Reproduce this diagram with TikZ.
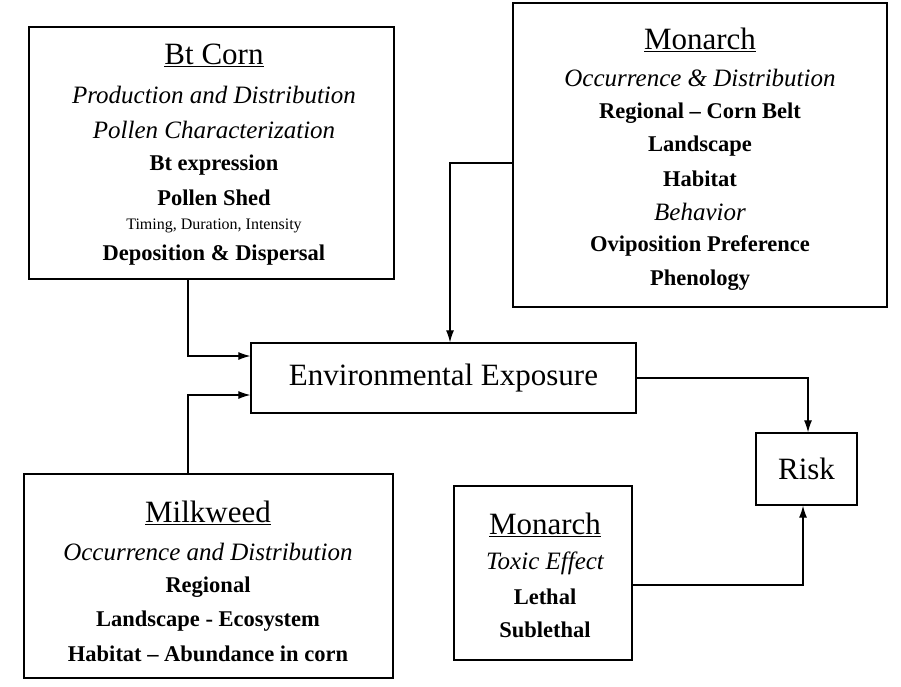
\documentclass[tikz,border=0pt]{standalone}
\usepackage{fontspec}
\setmainfont{Liberation Serif}
\usetikzlibrary{arrows.meta}
\begin{document}
\begin{tikzpicture}[x=1pt,y=-1pt,
 box/.style={draw,line width=1.3pt,inner sep=0pt},
 ttl/.style={font=\fontsize{31}{32}\selectfont},
 it/.style={font=\fontsize{25}{26}\selectfont\itshape},
 bd/.style={font=\fontsize{22.5}{23}\selectfont\bfseries},
 sm/.style={font=\fontsize{16}{17}\selectfont},
 arr/.style={line width=1.2pt,-{Latex[length=12pt,width=8pt]}}]
\useasboundingbox (0,0) rectangle (901,686);
\node[box,minimum width=365,minimum height=252] (bt) at (211.5,153) {};
\node[box,minimum width=374,minimum height=304] (mt) at (700,155) {};
\node[box,minimum width=385,minimum height=70] (ee) at (443.5,378) {};
\node[box,minimum width=101,minimum height=72] (risk) at (806.5,469) {};
\node[box,minimum width=369,minimum height=204] (mw) at (208.5,576) {};
\node[box,minimum width=178,minimum height=174] (mb) at (543,573) {};
% Bt corn text
\node[ttl] at (214,55) {\underline{Bt Corn}};
\node[it] at (214,95) {Production and Distribution};
\node[it] at (214,130) {Pollen Characterization};
\node[bd] at (214,165) {Bt expression};
\node[bd] at (214,198) {Pollen Shed};
\node[sm] at (214,226) {Timing, Duration, Intensity};
\node[bd] at (214,255) {Deposition \& Dispersal};
% monarch top
\node[ttl] at (700,40) {\underline{Monarch}};
\node[it] at (700,78) {Occurrence \& Distribution};
\node[bd] at (700,113) {Regional -- Corn Belt};
\node[bd] at (700,146) {Landscape};
\node[bd] at (700,179) {Habitat};
\node[it] at (700,212) {Behavior};
\node[bd] at (700,246) {Oviposition Preference};
\node[bd] at (700,280) {Phenology};
% EE, risk
\node[ttl] at (ee) {Environmental Exposure};
\node[ttl] at (risk) {Risk};
% milkweed
\node[ttl] at (208,513) {\underline{Milkweed}};
\node[it] at (208,552) {Occurrence and Distribution};
\node[bd] at (208,587) {Regional};
\node[bd] at (208,621) {Landscape - Ecosystem};
\node[bd] at (208,654) {Habitat -- Abundance in corn};
% monarch bottom
\node[ttl] at (545,525) {\underline{Monarch}};
\node[it] at (545,563) {Toxic Effect};
\node[bd] at (545,597) {Lethal};
\node[bd] at (545,630) {Sublethal};
% arrows
\draw[arr] (bt.south -| 188,0) |- (ee.west |- 0,356);
\draw[arr] (mw.north -| 188,0) |- (ee.west |- 0,395);
\draw[arr] (mt.west |- 0,163) -| (ee.north -| 450,0);
\draw[arr] (ee.east) -| (risk.north -| 808,0);
\draw[arr] (mb.east |- 0,585) -| (risk.south -| 803,0);
\end{tikzpicture}
\end{document}
